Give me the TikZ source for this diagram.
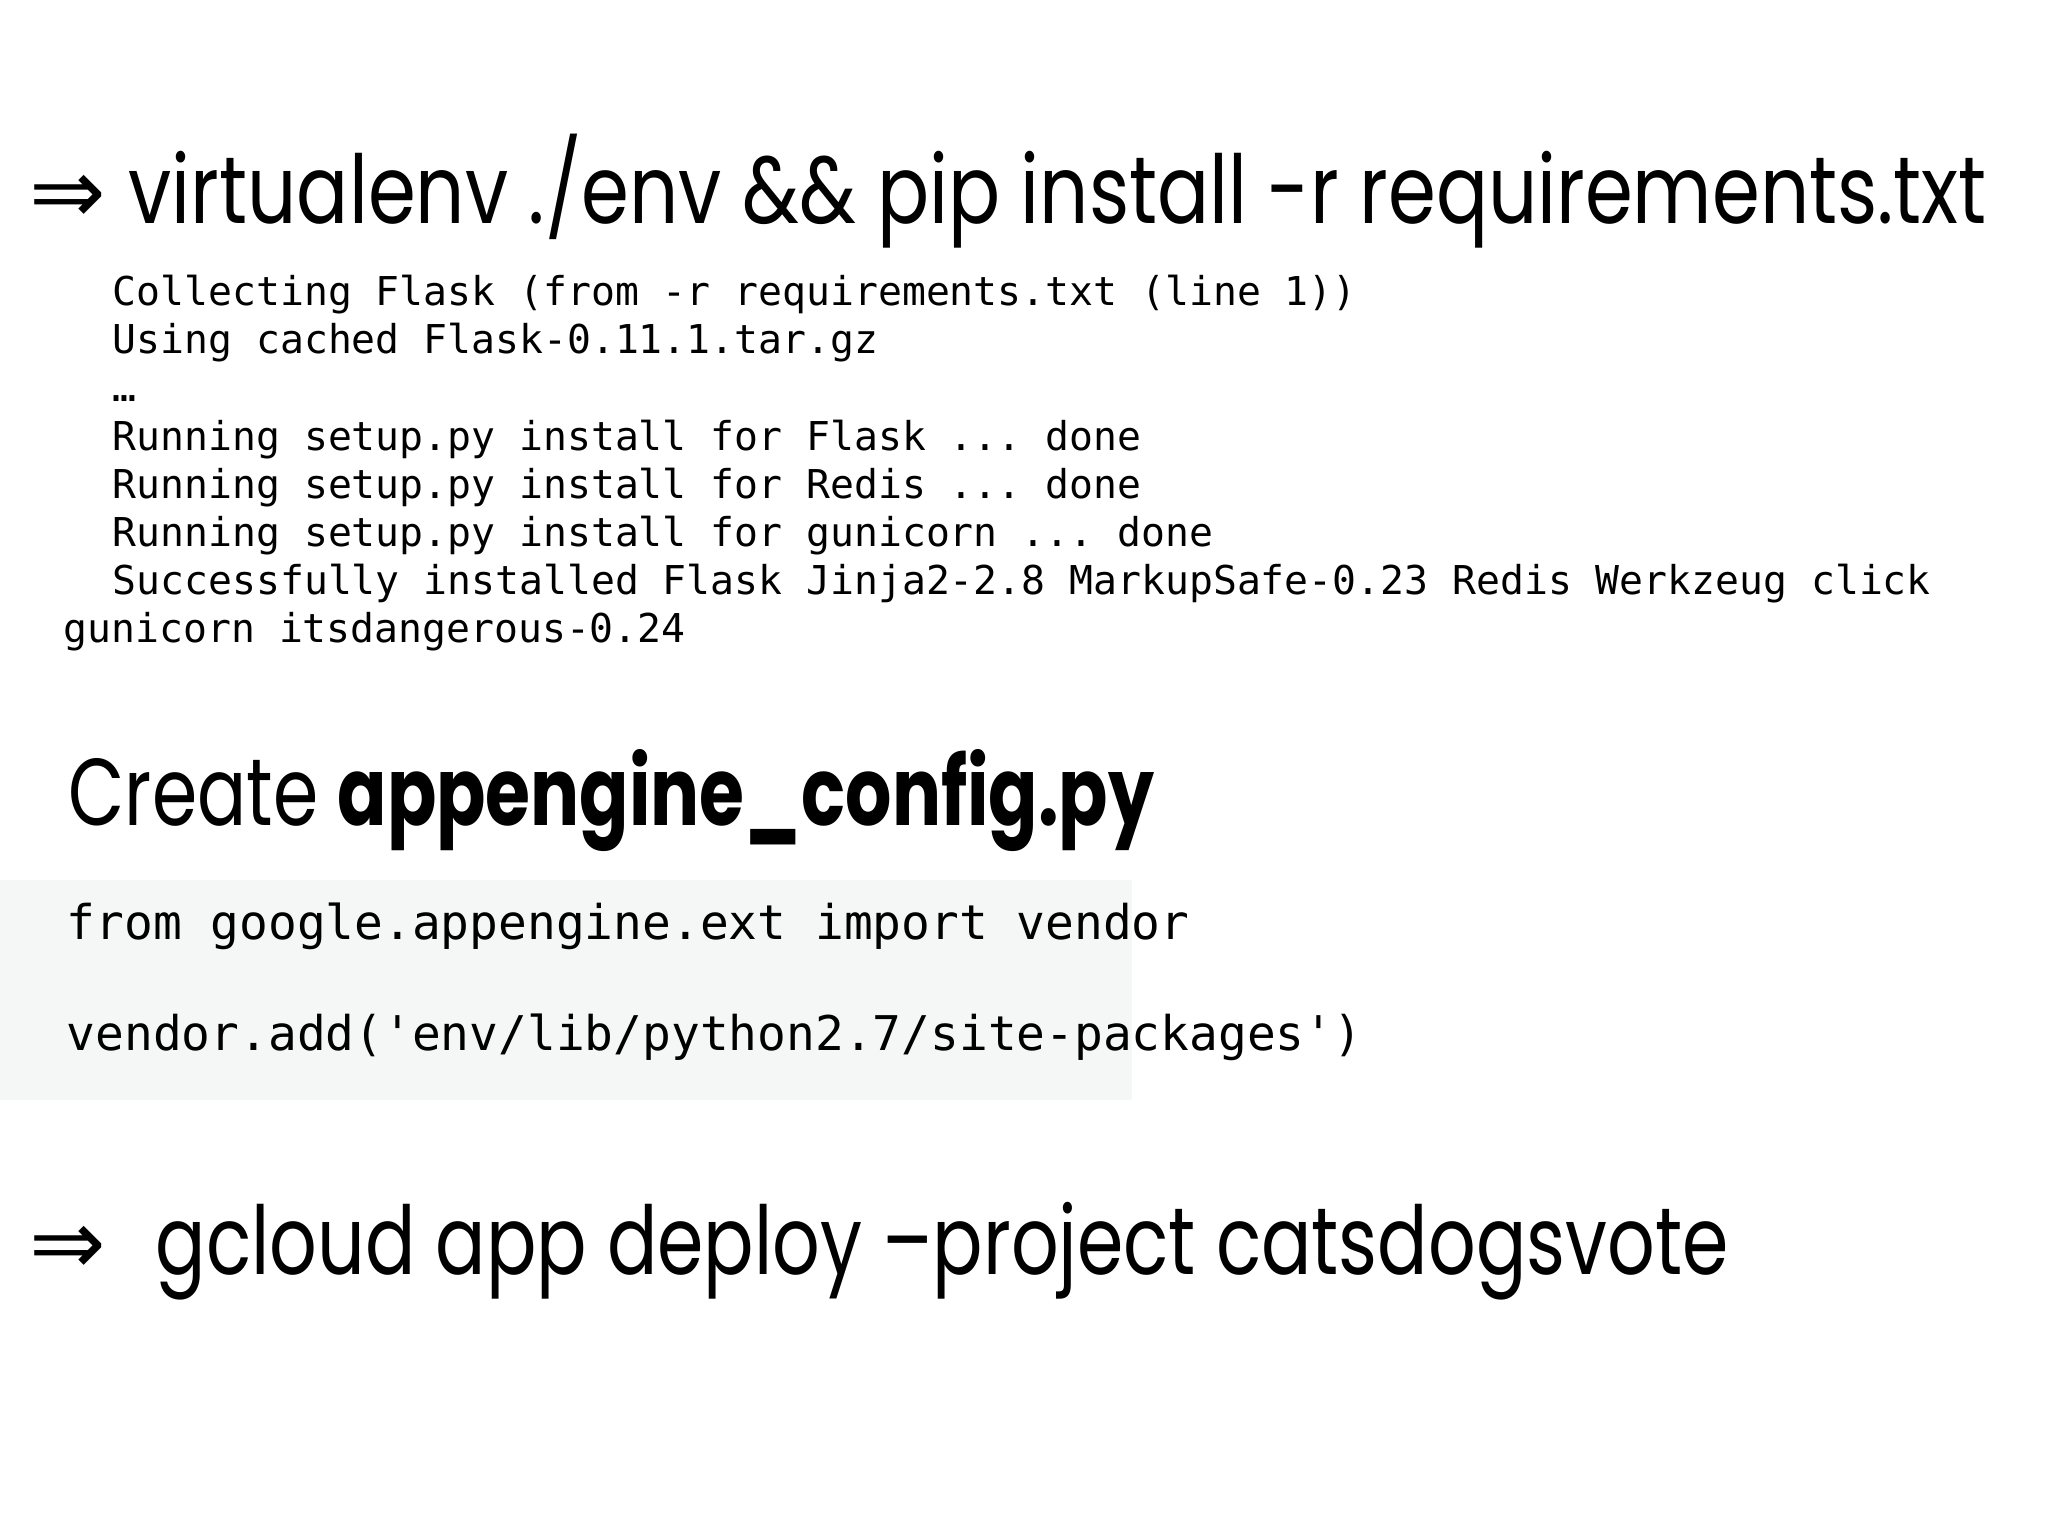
\documentclass[tikz,border=0pt]{standalone}
\usepackage{fontspec}
\usepackage{graphicx}
\setmainfont{Poppins}
\newfontfamily\arrowfont{DejaVu Sans}
\setmonofont{DejaVu Sans Mono}
\definecolor{codebg}{HTML}{F4F7F5}
\begin{document}
\begin{tikzpicture}[x=0.01cm,y=-0.01cm,
  head/.style={anchor=base west,inner sep=0pt,font=\fontsize{27}{30}\selectfont},
  arr/.style={anchor=base west,inner sep=0pt,font=\arrowfont\fontsize{26}{30}\selectfont},
  term/.style={anchor=base west,inner sep=0pt,font=\ttfamily\fontsize{11.3}{13}\selectfont},
  code/.style={anchor=base west,inner sep=0pt,font=\ttfamily\fontsize{13.6}{16}\selectfont}]
\useasboundingbox (0,0) rectangle (2048,1536);
\fill[codebg] (0,880) rectangle (1132,1100);
\node[arr] (a1) at (29,223) {⇒};
\node[head] (h1) at (128,223) {\resizebox{18.57cm}{\height}{virtualenv ./env \&\& pip install -r requirements.txt}};
\node[term] (t1) at (112,305) {Collecting Flask (from -r requirements.txt (line 1))};
\node[term] (t2) at (112,353) {Using cached Flask-0.11.1.tar.gz};
\node[term] (t3) at (112,401) {…};
\node[term] (t4) at (112,450) {Running setup.py install for Flask ... done};
\node[term] (t5) at (112,498) {Running setup.py install for Redis ... done};
\node[term] (t6) at (112,546) {Running setup.py install for gunicorn ... done};
\node[term] (t7) at (112,594) {Successfully installed Flask Jinja2-2.8 MarkupSafe-0.23 Redis Werkzeug click};
\node[term] (t8) at (63,642) {gunicorn itsdangerous-0.24};
\node[head] (h2) at (68,825) {\resizebox{10.85cm}{\height}{Create \textbf{appengine\_config.py}}};
\node[code] (c1) at (66,939) {from google.appengine.ext import vendor};
\node[code] (c2) at (66,1050) {vendor.add('env/lib/python2.7/site-packages')};
\node[arr] (a2) at (29,1274) {⇒};
\node[head] (h3) at (155,1274) {\resizebox{15.72cm}{\height}{gcloud app deploy –project catsdogsvote}};
\end{tikzpicture}
\end{document}
